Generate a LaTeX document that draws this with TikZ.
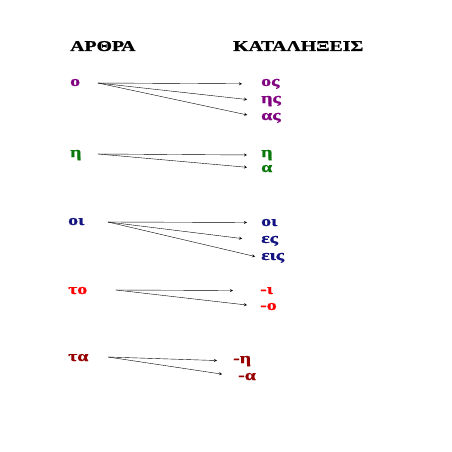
\documentclass[tikz,border=0pt]{standalone}
\usepackage{fontspec}
\setmainfont{Liberation Serif}[FakeStretch=1.32, BoldFeatures={FakeBold=1.2}]
\definecolor{artpurple}{RGB}{128,0,128}
\definecolor{artgreen}{RGB}{10,120,10}
\definecolor{artnavy}{RGB}{20,20,128}
\definecolor{artred}{RGB}{255,0,0}
\definecolor{artmaroon}{RGB}{150,0,0}
\begin{document}
\begin{tikzpicture}[x=1pt,y=-1pt,>=stealth,font=\fontsize{15}{17}\selectfont\bfseries, line join=round, line cap=round]
	\tikzset{lbl/.style={anchor=base west,inner sep=0pt}, arr/.style={->,thin}}
	\useasboundingbox (0,0) rectangle (452,452);
	\node[lbl] (hdrA) at (70,51) {ΑΡΘΡΑ};
	\node[lbl] (hdrK) at (233,51) {ΚΑΤΑΛΗΞΕΙΣ};
	% o
	\node[lbl,artpurple] (o) at (70,86) {ο};
	\node[lbl,artpurple] (os) at (261,86) {ος}; \node[lbl,artpurple] (hs) at (261,103) {ης}; \node[lbl,artpurple] (as) at (261,120) {ας};
	\coordinate (so) at (98,83);
	\draw[arr,shorten >=19pt] (so)--(os.west); \draw[arr,shorten >=14pt] (so)--(hs.west); \draw[arr,shorten >=14pt] (so)--(as.west);
	% h
	\node[lbl,artgreen] (h) at (70,157) {η};
	\node[lbl,artgreen] (hh) at (261,157) {η}; \node[lbl,artgreen] (ha) at (261,172) {α};
	\coordinate (sh) at (98,154);
	\draw[arr,shorten >=14pt] (sh)--(hh.west); \draw[arr,shorten >=14pt] (sh)--(ha.west);
	% oi
	\node[lbl,artnavy] (oi) at (68,225) {οι};
	\node[lbl,artnavy] (ioi) at (261,226) {οι}; \node[lbl,artnavy] (ies) at (261,243) {ες}; \node[lbl,artnavy] (ieis) at (261,260) {εις};
	\coordinate (soi) at (108,222);
	\draw[arr,shorten >=14pt] (soi)--(ioi.west); \draw[arr,shorten >=19pt] (soi)--(ies.west); \draw[arr,shorten >=6pt] (soi)--(ieis.west);
	% to
	\node[lbl,artred] (to) at (68,294) {το};
	\node[lbl,artred] (ti) at (260,294) {-ι}; \node[lbl,artred] (tO) at (260,310) {-ο};
	\coordinate (sto) at (116,290);
	\draw[arr,shorten >=27pt] (sto)--(ti.west); \draw[arr,shorten >=13pt] (sto)--(tO.west);
	% ta
	\node[lbl,artmaroon] (ta) at (68,361) {τα};
	\node[lbl,artmaroon] (th) at (233,363) {-η}; \node[lbl,artmaroon] (tA) at (238,380) {-α};
	\coordinate (sta) at (108,357);
	\draw[arr,shorten >=16pt] (sta)--(th.west); \draw[arr,shorten >=16pt] (sta)--(tA.west);
\end{tikzpicture}
\end{document}
